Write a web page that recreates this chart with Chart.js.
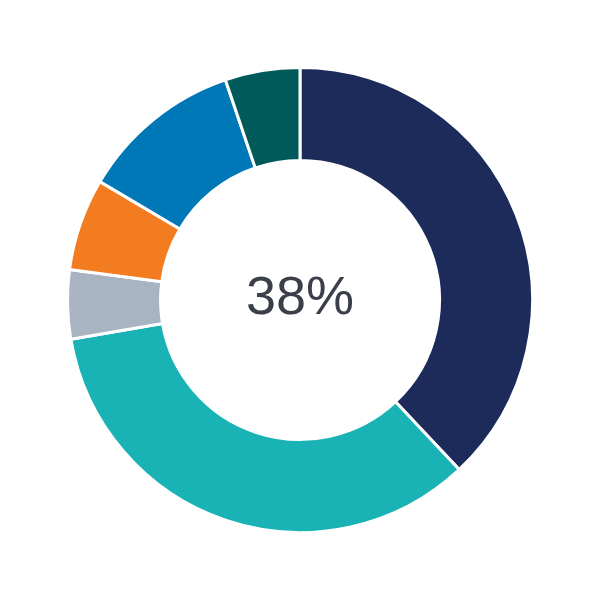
<!DOCTYPE html>
<html lang="en">
<head>
<meta charset="UTF-8"/>
<title>Doughnut</title>
<script src="https://cdn.jsdelivr.net/npm/chart.js@4/dist/chart.umd.min.js"></script>
<style>
  *{box-sizing:border-box;margin:0;padding:0}
  body{background:#fff;width:600px;height:600px;overflow:hidden}
  .wrap{position:relative;width:600px;height:600px}
</style>
</head>
<body>
<div class="wrap"><canvas id="c"></canvas></div>
<script>
// ── Data ─────────────────────────────────────────────────────────────────────
const labels = ['A', 'B', 'C', 'D', 'E', 'F'];
const values = [38, 34.3, 4.8, 6.4, 11.3, 5.2];
const colors = ['#1c2b5a', '#1ab3b5', '#a9b4c2', '#f47c20', '#0077b6', '#005a5a'];
const centerText = '38%';

// center label
const centerLabel = {
  id: 'centerLabel',
  afterDraw(chart) {
    const { ctx } = chart;
    const a = chart.getDatasetMeta(0).data[0];
    ctx.save();
    ctx.font = '54px "Liberation Sans", Arial, sans-serif';
    ctx.fillStyle = '#3a3f4a';
    ctx.textAlign = 'center';
    ctx.textBaseline = 'middle';
    ctx.fillText(centerText, a.x, a.y - 1);
    ctx.restore();
  }
};

new Chart(document.getElementById('c'), {
  type: 'doughnut',
  data: {
    labels,
    datasets: [{
      data: values,
      backgroundColor: colors,
      borderColor: '#fff',
      borderWidth: 3,
    }]
  },
  options: {
    responsive: true,
    maintainAspectRatio: false,
    animation: false,
    cutout: '60%',
    layout: { padding: 66 },
    plugins: { legend: { display: false }, tooltip: { enabled: false } }
  },
  plugins: [centerLabel]
});
</script>
</body>
</html>
